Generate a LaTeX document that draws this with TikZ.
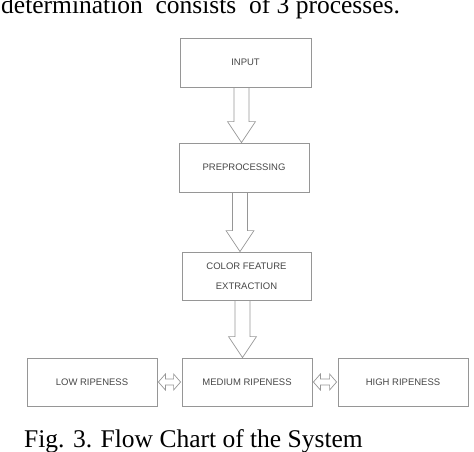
\documentclass[tikz,border=0pt]{standalone}
\usepackage{fontspec}
\setmainfont{Liberation Serif}
\newfontfamily\boxfont{Liberation Sans}
\usetikzlibrary{calc}
\definecolor{boxline}{RGB}{150,150,150}
\definecolor{boxtext}{RGB}{70,70,70}
\tikzset{
  stagebox/.style={draw=boxline,line width=0.8pt,minimum width=130pt,minimum height=48pt,
    inner sep=2pt,align=center,text=boxtext,font=\boxfont\fontsize{9.5}{20}\selectfont},
  blockarrow/.style={draw=boxline,line width=0.7pt,line join=miter},
  bigtext/.style={font=\fontsize{25.5}{30}\selectfont,inner sep=0pt}
}
% hollow arrow down from #1 to #2
\newcommand{\flowdown}[2]{%
  \draw[blockarrow] let \p1=(#1.south), \p2=(#2.north) in
    (\x1-11.5,\y1) -- (\x1-11.5,\y2+21) -- (\x1-18,\y2+21) -- (\x1-4,\y2)
    -- (\x1+10,\y2+21) -- (\x1+3.5,\y2+21) -- (\x1+3.5,\y1) -- cycle;}
% hollow two-way arrow from #1 to #2
\newcommand{\flowboth}[2]{%
  \draw[blockarrow] let \p1=(#1.east), \p2=(#2.west) in
    (\x1+1,\y1) -- (\x1+8,\y1+8) -- (\x1+8,\y1+3) -- (\x2-8,\y1+3) -- (\x2-8,\y1+8)
    -- (\x2-1,\y1) -- (\x2-8,\y1-8) -- (\x2-8,\y1-3) -- (\x1+8,\y1-3) -- (\x1+8,\y1-8) -- cycle;}
\begin{document}
\begin{tikzpicture}[x=1pt,y=-1pt]
\useasboundingbox (0,0) rectangle (474,451);
\node[bigtext,anchor=base west] (intro) at (1,13) {determination\ \ consists\ \ of\ 3\ processes.};
% stages
\node[stagebox,minimum width=131pt,minimum height=49pt] (input) at (245.5,62.5) {INPUT};
\node[stagebox,minimum height=49pt] (prep) at (244,167.5) {PREPROCESSING};
\node[stagebox,minimum width=129pt] (color) at (246.5,276) {COLOR FEATURE\\EXTRACTION};
\node[stagebox] (medium) at (247,382) {MEDIUM RIPENESS};
\node[stagebox] (low) at (92,382) {LOW RIPENESS};
\node[stagebox] (high) at (403,382) {HIGH RIPENESS};
% arrows
\flowdown{input}{prep}
\flowdown{prep}{color}
\flowdown{color}{medium}
\flowboth{low}{medium}
\flowboth{medium}{high}
\node[bigtext,anchor=base west] (caption) at (24,447) {Fig. 3. Flow Chart of the System};
\end{tikzpicture}
\end{document}
